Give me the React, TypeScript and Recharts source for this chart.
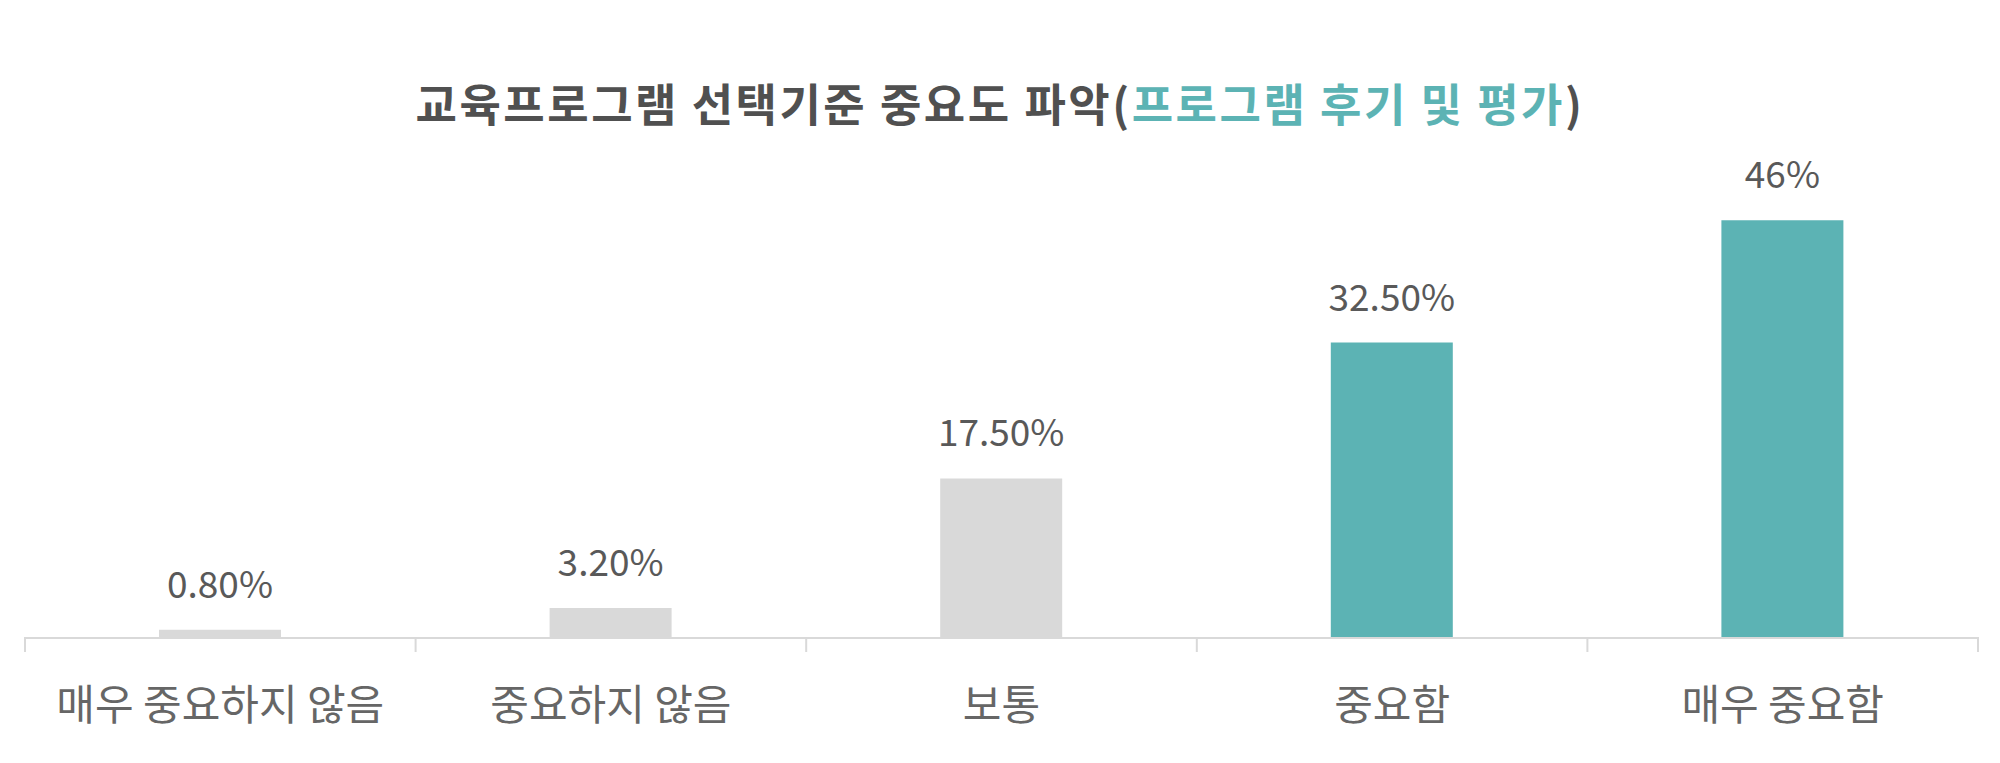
import { BarChart, Bar, XAxis, YAxis, Cell, LabelList } from 'recharts';

const categories = ['매우 중요하지 않음', '중요하지 않음', '보통', '중요함', '매우 중요함'];
const shares = [0.8, 3.2, 17.5, 32.5, 46];
const shareLabels = ['0.80%', '3.20%', '17.50%', '32.50%', '46%'];
const highlighted = ['중요함', '매우 중요함'];
const edgeTicks = [0, 1, 2, 3, 4, 5];

const FONT = "'Noto Sans CJK KR', 'Noto Sans', sans-serif";
const TEAL = '#5cb3b4';
const GREY = '#d9d9d9';

const data = categories.map((c, i) => ({ name: c, pos: i + 0.5, value: shares[i], label: shareLabels[i] }));

export default function App() {
  return (
    <div style={{ position: 'relative', width: 2000, height: 763, background: '#fff', fontFamily: FONT }}>
      <style>{'body{margin:0}'}</style>
      <div
        style={{
          position: 'absolute', top: 74, left: 0, width: 2000, textAlign: 'center',
          fontSize: 45, fontWeight: 700, color: '#505050', lineHeight: '58px', letterSpacing: 2.5,
        }}
      >
        교육프로그램 선택기준 중요도 파악(<span style={{ color: TEAL }}>프로그램 후기 및 평가</span>)
      </div>
      <BarChart width={2000} height={763} data={data} margin={{ top: 184, right: 22, left: 25, bottom: 0 }}>
        {/* boundary ticks between categories */}
        <XAxis
          xAxisId="a"
          dataKey="pos"
          type="number"
          domain={[0, 5]}
          ticks={edgeTicks}
          allowDataOverflow
          height={1}
          tick={() => <g />}
          tickSize={15}
          axisLine={false}
          tickLine={{ stroke: GREY, strokeWidth: 2 }}
        />
        <XAxis
          xAxisId="b"
          dataKey="name"
          height={125}
          tickLine={false}
          tickSize={15}
          tickMargin={37}
          axisLine={{ stroke: GREY, strokeWidth: 2 }}
          tick={{ fontFamily: FONT, fontSize: 42, fill: '#666' }}
          interval={0}
        />
        <YAxis hide domain={[0, 50]} />
        <Bar xAxisId="b" dataKey="value" barSize={122} isAnimationActive={false}>
          {data.map((d) => (
            <Cell key={d.name} fill={highlighted.includes(d.name) ? TEAL : GREY} />
          ))}
          <LabelList
            dataKey="label"
            position="top"
            offset={32}
            style={{ fontFamily: FONT, fontSize: 37, fill: '#595959' }}
          />
        </Bar>
      </BarChart>
    </div>
  );
}
